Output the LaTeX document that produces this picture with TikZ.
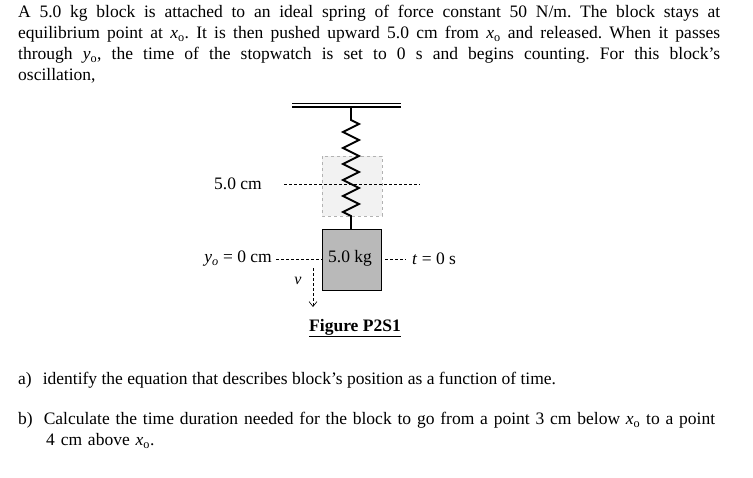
\documentclass[tikz,border=0pt]{standalone}
\usepackage{fontspec}
\setmainfont{Liberation Serif}
\frenchspacing
\usetikzlibrary{arrows.meta}
\begin{document}
\begin{tikzpicture}[x=1pt,y=-1pt,font=\fontsize{17.5}{21}\selectfont,
  dashln/.style={densely dashed,line width=0.6pt},
  springln/.style={line width=1.8pt,line join=miter},
  lbl/.style={inner sep=0pt}]
\useasboundingbox (0,0) rectangle (753,477);
\node[lbl,anchor=north west,text width=702pt,align=justify] (para) at (18,5)
 {A 5.0 kg block is attached to an ideal spring of force constant 50 N/m. The block stays at\linebreak equilibrium point at \textit{x}\textsubscript{o}. It is then pushed upward 5.0 cm from \textit{x}\textsubscript{o} and released. When it passes\linebreak through \textit{y}\textsubscript{o}, the time of the stopwatch is set to 0 s and begins counting. For this block's\linebreak oscillation,};
% ceiling
\draw[line width=1.3pt] (292,103.5) -- (401,103.5);
\draw[line width=1.3pt] (292,107) -- (401,107);
% ghost box
\draw[dashed,draw=gray!60,fill=gray!10] (322,156) rectangle (382,216);
\draw[dashln] (284,184) -- (420,184);
\node[lbl] (cm5) at (238,184) {5.0 cm};
% spring
\coordinate (top) at (351,107);
\coordinate (bot) at (351,229);
\draw[springln] (top) -- (351,120) -- (359,124)
  -- (343,132) -- (359,140) -- (343,148) -- (359,156) -- (343,164)
  -- (359,172) -- (343,180) -- (359,188) -- (343,196) -- (359,204) -- (343,212)
  -- (351,216) -- (bot);
% block
\node[draw,fill=gray!55,minimum width=59pt,minimum height=61pt,inner sep=0pt,line width=0.8pt,anchor=north] (blk) at (351.5,229) {};
\node[lbl] (kg) at (350,258) {5.0 kg};
\node[lbl,anchor=east] (y0) at (272,259) {\textit{y}\textsubscript{\textit{o}} = 0 cm};
\coordinate (l1) at (276,259);
\coordinate (l2) at (322,259);
\draw[dashln] (l1) -- (l2);
\coordinate (r1) at (385,259);
\coordinate (r2) at (406,259);
\draw[dashln] (r1) -- (r2);
\node[lbl,anchor=west] (t0) at (412,259) {\textit{t} = 0 s};
\node[lbl,font=\fontsize{16}{18}\selectfont\itshape] (v) at (298,281) {v};
\coordinate (a1) at (313,268);
\coordinate (a2) at (313,307);
\draw[dashln,-{Straight Barb[length=5pt,width=8pt]}] (a1) -- (a2);
\node[lbl,font=\fontsize{17.5}{21}\selectfont\bfseries] (fig) at (355,328) {\underline{Figure P2S1}};
\node[lbl,anchor=west] (qa) at (18,380) {a)\hspace{11pt}identify the equation that describes block's position as a function of time.};
\node[lbl,anchor=north west,text width=725pt] (qb) at (18,412) {b)\hspace{11pt}Calculate the time duration needed for the block to go from a point 3 cm below \textit{x}\textsubscript{o} to a point\\\hspace*{28pt}4 cm above \textit{x}\textsubscript{o}.};
\end{tikzpicture}
\end{document}
